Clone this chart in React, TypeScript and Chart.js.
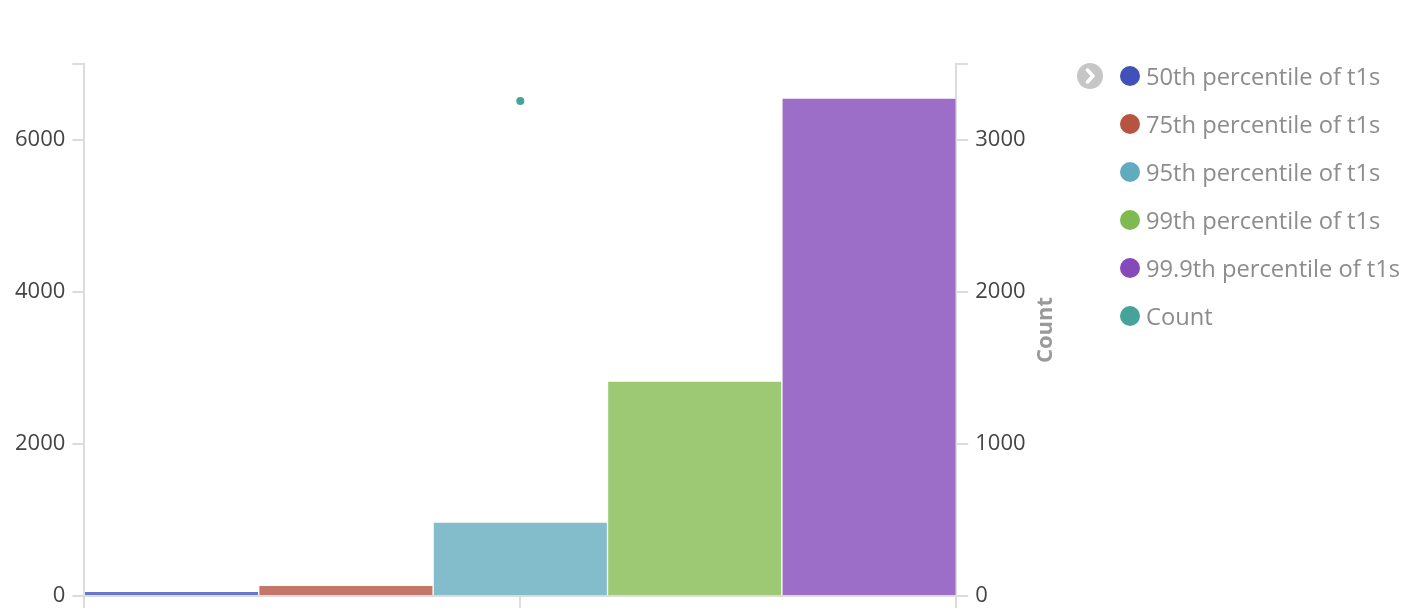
import React, { useEffect, useRef } from "react";
import { Chart, registerables } from "chart.js";

Chart.register(...registerables);

// series (one bucket, five percentiles + count)
const seriesNames = [
  "50th percentile of t1s",
  "75th percentile of t1s",
  "95th percentile of t1s",
  "99th percentile of t1s",
  "99.9th percentile of t1s",
];
const seriesValues = [62, 141, 974, 2829, 6553];
const barColors = ["#6978CB", "#C4766A", "#83BDCB", "#9DC974", "#9C6EC7"];
const legendColors = ["#4051BA", "#B6543F", "#60ACBE", "#7FBA50", "#8549BA"];

const countLabel = "Count";
const countValue = 3257;
const countColor = "#46A399";

const leftTicks = [0, 2000, 4000, 6000, 7000];
const rightTicks = [0, 1000, 2000, 3000, 3500];

const FONT = "'Open Sans', sans-serif";
const AXIS_GREY = "#dcdcdc";

// the right axis title reads bottom-to-top, chart.js draws it the other way,
// so its space is reserved by the axis and the text is painted here
const countTitlePlugin = {
  id: "countTitle",
  afterDraw(chart: any) {
    const ctx = chart.ctx;
    const y1 = chart.scales.y1;
    const lh = 22 * 1.2;
    ctx.save();
    ctx.font = `bold 22px ${FONT}`;
    ctx.fillStyle = "#9a9a9a";
    ctx.textAlign = "center";
    ctx.textBaseline = "middle";
    ctx.translate(y1.right - lh / 2, (y1.top + y1.bottom) / 2);
    ctx.rotate(-Math.PI / 2);
    ctx.fillText(countLabel, 0, 0);
    ctx.restore();
  },
};

const Legend = () => {
  const items = [
    ...seriesNames.map((n, i) => ({ name: n, color: legendColors[i] })),
    { name: countLabel, color: countColor },
  ];
  return (
    <div style={{ position: "absolute", left: 1077, top: 52, fontFamily: FONT }}>
      <div
        style={{
          position: "absolute",
          left: 0,
          top: 11,
          width: 26,
          height: 26,
          borderRadius: "50%",
          background: "#c6c6c6",
        }}
      >
        <svg width="26" height="26" viewBox="0 0 26 26">
          <path
            d="M10.5 7 L16 13 L10.5 19"
            fill="none"
            stroke="#fff"
            strokeWidth="3.5"
            strokeLinecap="round"
            strokeLinejoin="round"
          />
        </svg>
      </div>
      {items.map((it) => (
        <div
          key={it.name}
          style={{
            display: "flex",
            alignItems: "center",
            height: 48,
            marginLeft: 43,
            whiteSpace: "nowrap",
          }}
        >
          <span
            style={{
              display: "inline-block",
              width: 20,
              height: 20,
              borderRadius: "50%",
              background: it.color,
              marginRight: 6,
            }}
          />
          <span style={{ fontSize: 23.7, lineHeight: "48px", color: "#8c8c8c" }}>{it.name}</span>
        </div>
      ))}
    </div>
  );
};

const App = () => {
  const chartRef = useRef<HTMLCanvasElement | null>(null);

  useEffect(() => {
    const ctx = chartRef.current?.getContext("2d");
    if (!ctx) return;

    Chart.defaults.font.family = FONT;

    const barSets = seriesNames.map((name, i) => ({
      type: "bar" as const,
      label: name,
      data: [{ x: i + 0.5, y: seriesValues[i] }],
      backgroundColor: barColors[i],
      borderColor: "rgba(255,255,255,0.55)",
      borderWidth: 1,
      grouped: false,
      barPercentage: 1,
      categoryPercentage: 1,
      xAxisID: "x",
      yAxisID: "y",
    }));

    const countSet = {
      type: "line" as const,
      label: countLabel,
      data: [{ x: seriesNames.length / 2, y: countValue }],
      showLine: false,
      pointRadius: 4,
      pointHoverRadius: 4,
      pointBackgroundColor: countColor,
      pointBorderWidth: 0,
      borderColor: countColor,
      backgroundColor: countColor,
      xAxisID: "x",
      yAxisID: "y1",
    };

    const tickFont = { family: FONT, size: 22 };
    const axisGrid = {
      drawOnChartArea: false,
      tickLength: 12,
      color: AXIS_GREY,
      lineWidth: 2,
    };
    // keep the plot 18px above the bottom edge, whatever the label overhang
    const fixBottom = (axis: any) => {
      axis.paddingBottom = 18;
    };

    const myChart = new Chart(ctx, {
      type: "bar",
      data: { datasets: [...barSets, countSet] as any },
      plugins: [countTitlePlugin],
      options: {
        animation: false,
        responsive: true,
        maintainAspectRatio: false,
        layout: { padding: { top: 64, left: 8, right: 355, bottom: 0 } },
        scales: {
          x: {
            type: "linear",
            min: 0,
            max: seriesNames.length,
            offset: false,
            ticks: { display: false, stepSize: seriesNames.length / 2 },
            grid: { ...axisGrid, offset: false },
            border: { color: AXIS_GREY, width: 2 },
          },
          y: {
            position: "left",
            min: 0,
            max: 7000,
            afterBuildTicks: (axis: any) => {
              axis.ticks = leftTicks.map((v) => ({ value: v }));
            },
            afterFit: fixBottom,
            ticks: {
              font: tickFont,
              color: "#444",
              padding: 7,
              callback: (v: any) => (v === 7000 ? "" : String(v)),
            },
            grid: axisGrid,
            border: { color: AXIS_GREY, width: 2 },
          },
          y1: {
            position: "right",
            min: 0,
            max: 3500,
            afterBuildTicks: (axis: any) => {
              axis.ticks = rightTicks.map((v) => ({ value: v }));
            },
            afterFit: fixBottom,
            ticks: {
              font: tickFont,
              color: "#444",
              padding: 7,
              callback: (v: any) => (v === 3500 ? "" : String(v)),
            },
            grid: axisGrid,
            border: { color: AXIS_GREY, width: 2 },
            title: {
              display: true,
              text: countLabel,
              color: "transparent",
              font: { family: FONT, size: 22, weight: "bold" },
              padding: 0,
            },
          },
        },
        plugins: {
          tooltip: { enabled: false },
          legend: { display: false },
        },
      } as any,
    });

    return () => {
      myChart.destroy();
    };
  }, []);

  return (
    <div style={{ position: "fixed", left: 0, top: 0, width: 1414, height: 614, background: "#fff" }}>
      <canvas ref={chartRef}></canvas>
      <Legend />
    </div>
  );
};

export default App;
